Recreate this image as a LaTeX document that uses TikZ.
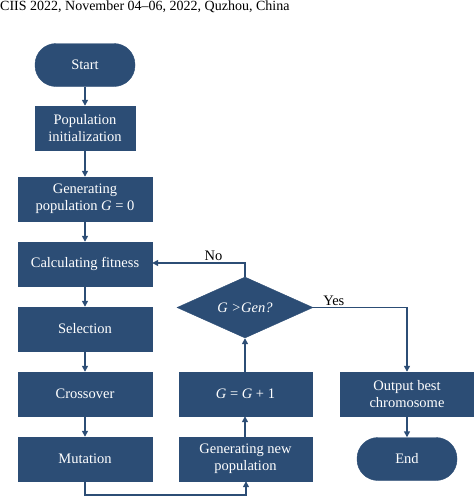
\documentclass[tikz,border=0pt]{standalone}
\usepackage{fontspec}
\setmainfont{Liberation Serif}
\usetikzlibrary{arrows.meta,shapes.geometric,positioning}
\definecolor{fcblue}{HTML}{2C4D75}
\tikzset{
  box/.style={draw=fcblue,fill=fcblue,text=white,minimum width=134pt,minimum height=44pt,inner sep=1pt,align=center,font=\fontsize{14.5}{17}\selectfont},
  smallbox/.style={box,minimum width=100pt},
  pill/.style={box,rounded corners=21pt,minimum width=100pt,minimum height=43pt},
  decision/.style={diamond,draw=fcblue,fill=fcblue,text=white,aspect=2.23,inner sep=0pt,minimum width=136pt,minimum height=61pt,font=\fontsize{14.5}{17}\selectfont\itshape},
  conn/.style={draw=fcblue,line width=1.4pt,-{Triangle[width=6pt,length=6pt]}},
  lbl/.style={font=\fontsize{14.5}{17}\selectfont,text=black,inner sep=1.5pt}
}
\begin{document}
\begin{tikzpicture}[x=1pt,y=-1pt]
\useasboundingbox (0,0) rectangle (474,496);
\node[anchor=west,inner sep=0pt,font=\fontsize{14}{16}\selectfont] (hdr) at (0,7) {CIIS 2022, November 04--06, 2022, Quzhou, China};
\node[pill] (start) at (85,65) {Start};
\node[smallbox] (init) at (85,128) {Population\\initialization};
\node[box] (gen0) at (85,199) {Generating\\population \textit{G} = 0};
\node[box] (fit) at (85,264) {Calculating fitness};
\node[box] (sel) at (85,329) {Selection};
\node[box] (cross) at (85,394) {Crossover};
\node[box] (mut) at (85,459) {Mutation};
\node[box,minimum width=133pt] (newpop) at (245.5,459) {Generating new\\population};
\node[box,minimum width=133pt] (inc) at (245.5,394) {\textit{G} = \textit{G} + 1};
\node[decision] (dec) at (245,307.5) {G \textgreater Gen?};
\node[box] (out) at (407,394) {Output best\\chromosome};
\node[pill] (end) at (407,459) {End};
\coordinate (bl) at (85,495);
\coordinate (br) at (246,495);
\draw[conn] (start) -- (init);
\draw[conn] (init) -- (gen0);
\draw[conn] (gen0) -- (fit);
\draw[conn] (fit) -- (sel);
\draw[conn] (sel) -- (cross);
\draw[conn] (cross) -- (mut);
\draw[conn] (mut.south) -- (bl) -- (br) -- (newpop.south -| br);
\draw[conn] (newpop.north -| dec) -- (inc.south -| dec);
\draw[conn] (inc.north -| dec) -- (dec.south);
\draw[conn] (dec.north) |- (fit.east |- 0,263) node[lbl,pos=0.67,above] {No};
\draw[conn] (dec.east) -| (out.north) node[lbl,pos=0.11,above] {Yes};
\draw[conn] (out) -- (end);
\end{tikzpicture}
\end{document}
